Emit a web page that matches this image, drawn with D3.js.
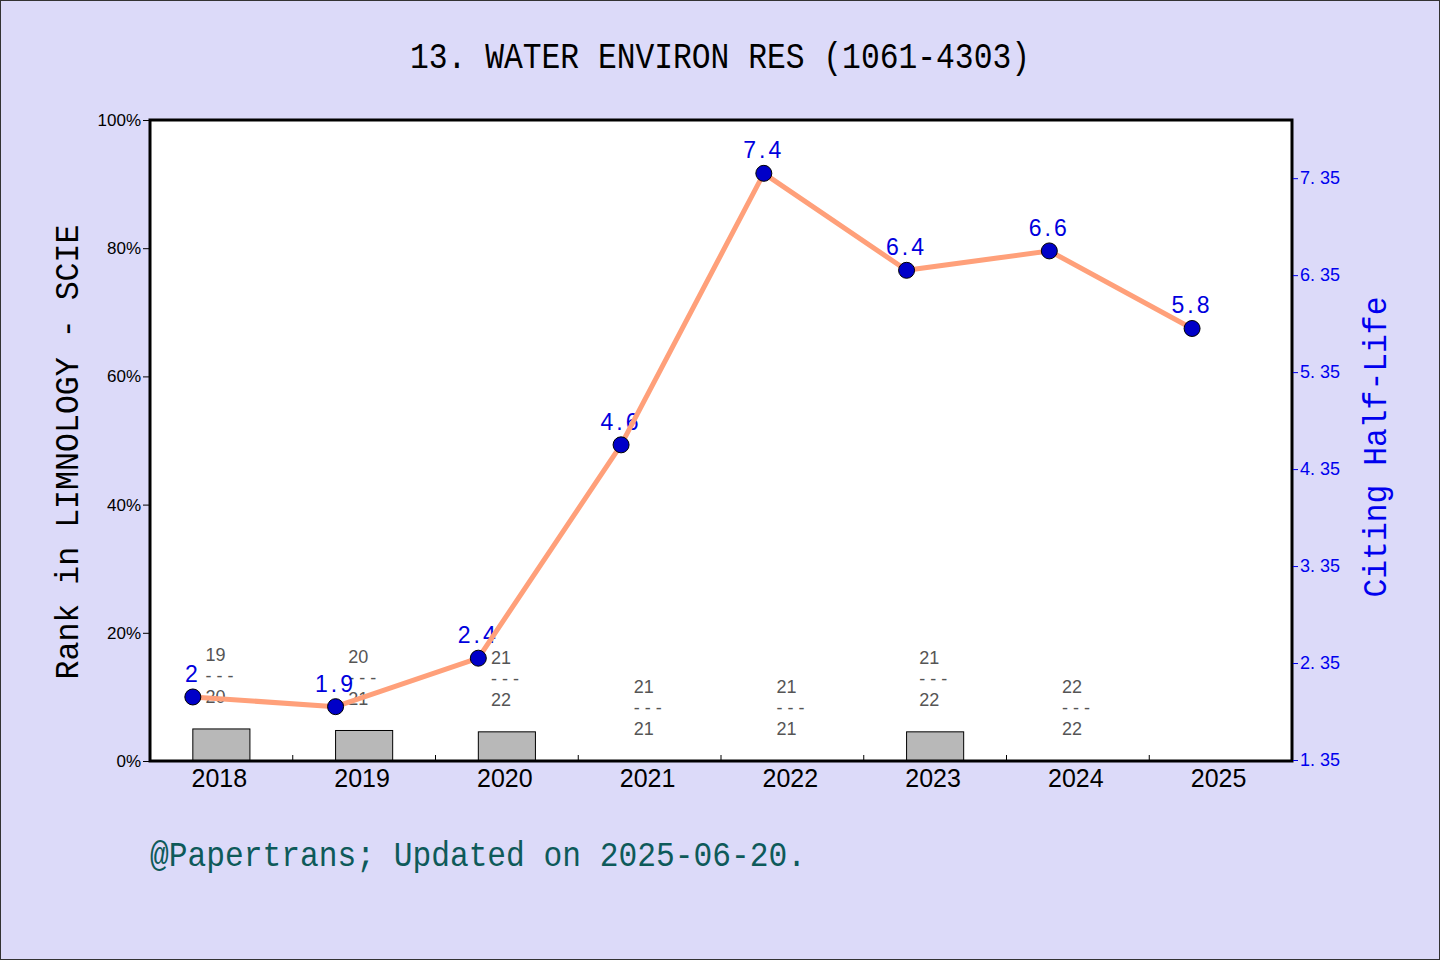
<!DOCTYPE html>
<html><head><meta charset="utf-8">
<script src="https://cdn.jsdelivr.net/npm/d3@7"></script>
<style>html,body{margin:0;padding:0;background:#dcdaf9;}svg{display:block;}</style>
</head><body>
<script>
const years = ["2018","2019","2020","2021","2022","2023","2024","2025"];
const halfLife = [2, 1.9, 2.4, 4.6, 7.4, 6.4, 6.6, 5.8];
const halfLifeLabels = ["2","1.9","2.4","4.6","7.4","6.4","6.6","5.8"];
const rankYears = ["2018","2019","2020","2021","2022","2023","2024"];
const ranks = [19, 20, 21, 21, 21, 21, 22];
const totals = [20, 21, 22, 21, 21, 22, 22];
const barPct = [5.0, 4.76, 4.55, 0, 0, 4.55, 0];
const leftTicks = [0, 20, 40, 60, 80, 100];
const rightTicks = [1.35, 2.35, 3.35, 4.35, 5.35, 6.35, 7.35];
const titleText = "13. WATER ENVIRON RES (1061-4303)";
const footerText = "@Papertrans; Updated on 2025-06-20.";

const W = 1440, H = 960;
const L = 150, R = 1292, T = 120, B = 761;
const svg = d3.select("body").append("svg").attr("width", W).attr("height", H);
svg.append("rect").attr("x",0.5).attr("y",0.5).attr("width",W-1).attr("height",H-1)
  .attr("fill","#dcdaf9").attr("stroke","#333").attr("stroke-width",1);

const mono = "'Liberation Mono','DejaVu Sans Mono',monospace";
const sans = "'Liberation Sans','DejaVu Sans',sans-serif";

svg.append("text").attr("x",720).attr("y",68).attr("text-anchor","middle")
  .attr("font-family",mono).attr("font-size",36).attr("fill","#000")
  .attr("textLength",620).attr("lengthAdjust","spacingAndGlyphs").text(titleText);

svg.append("rect").attr("x",L).attr("y",T).attr("width",R-L).attr("height",B-T).attr("fill","#fff");

const x = d3.scaleBand().domain(years).range([L,R]).padding(0);
const yL = d3.scaleLinear().domain([0,100]).range([B,T]);
const yR = d3.scaleLinear().domain([1.35,7.95]).range([B-1,T]);
const px = d => x(d) + x.bandwidth()*0.3;

// bars
svg.append("g").selectAll("rect").data(rankYears.map((y,i)=>({y, v:barPct[i]})).filter(d=>d.v>0))
  .join("rect")
  .attr("x", d=>px(d.y)).attr("width", x.bandwidth()*0.4)
  .attr("y", d=>yL(d.v)).attr("height", d=>B - yL(d.v))
  .attr("fill","#b8b8b8").attr("stroke","#000").attr("stroke-width",1);

// rank labels
const rk = svg.append("g").attr("font-family",sans).attr("font-size",18).attr("fill","#555");
rankYears.forEach((yr,i)=>{
  const cx = x(yr) + x.bandwidth()/2 - 16;
  const cy = yL(barPct[i]) - 53;
  rk.append("text").attr("x",cx).attr("y",cy-21).attr("dy","0.35em").text(ranks[i]);
  rk.append("text").attr("x",cx).attr("y",cy).attr("dy","0.35em")
    .attr("textLength",32).attr("lengthAdjust","spacing").attr("letter-spacing",4).text("---");
  rk.append("text").attr("x",cx).attr("y",cy+21).attr("dy","0.35em").text(totals[i]);
});

// data labels (under the line)
svg.append("g").selectAll("text").data(years.map((y,i)=>({y, v:halfLife[i], t:halfLifeLabels[i]})))
  .join("text").attr("x", d=>px(d.y)).attr("y", d=>yR(d.v)-15)
  .attr("text-anchor","middle").attr("font-family",sans).attr("font-size",23)
  .attr("letter-spacing",3).attr("fill","#0000dd").text(d=>d.t);

// line
const line = d3.line().x((d,i)=>px(years[i])).y(d=>yR(d));
svg.append("path").datum(halfLife).attr("d",line).attr("fill","none")
  .attr("stroke","#ffa07a").attr("stroke-width",5).attr("stroke-linejoin","round");

svg.append("g").selectAll("circle").data(halfLife).join("circle")
  .attr("cx",(d,i)=>px(years[i])).attr("cy",d=>yR(d)).attr("r",8)
  .attr("fill","#0000c8").attr("stroke","#000").attr("stroke-width",1);

// frame
svg.append("rect").attr("x",L).attr("y",T).attr("width",R-L).attr("height",B-T)
  .attr("fill","none").attr("stroke","#000").attr("stroke-width",3);

// left axis
const la = svg.append("g").attr("transform",`translate(${L-1},0)`)
  .call(d3.axisLeft(yL).tickValues(leftTicks).tickFormat(d=>d+"%").tickSize(6).tickPadding(2));
la.select(".domain").remove();
la.selectAll("text").attr("font-family",sans).attr("font-size",17).attr("fill","#000");
la.selectAll("line").attr("stroke","#000");

// right axis
const ra = svg.append("g").attr("transform",`translate(${R+1},0)`)
  .call(d3.axisRight(yR).tickValues(rightTicks).tickFormat(d=>d3.format(".2f")(d).replace(".",". ")).tickSize(5).tickPadding(2));
ra.select(".domain").remove();
ra.selectAll("text").attr("font-family",sans).attr("font-size",18).attr("fill","#0000ee");
ra.selectAll("line").attr("stroke","#0000ee");

// bottom axis
const boundaries = years.slice(1);
svg.append("g").selectAll("line").data(boundaries).join("line")
  .attr("x1",d=>x(d)).attr("x2",d=>x(d)).attr("y1",B).attr("y2",B-6)
  .attr("stroke","#000").attr("stroke-width",1);
svg.append("g").selectAll("text").data(years).join("text")
  .attr("x",d=>x(d)+x.bandwidth()/2-2).attr("y",787).attr("text-anchor","middle")
  .attr("font-family",sans).attr("font-size",25).attr("fill","#000").text(d=>d);

// axis titles
svg.append("text").attr("transform","translate(78,452) rotate(-90)").attr("text-anchor","middle")
  .attr("font-family",mono).attr("font-size",34).attr("fill","#000")
  .attr("textLength",455).attr("lengthAdjust","spacingAndGlyphs").text("Rank in LIMNOLOGY - SCIE");
svg.append("text").attr("transform","translate(1386,447) rotate(-90)").attr("text-anchor","middle")
  .attr("font-family",mono).attr("font-size",34).attr("fill","#0000ee")
  .attr("textLength",301).attr("lengthAdjust","spacingAndGlyphs").text("Citing Half-Life");

svg.append("text").attr("x",150).attr("y",866)
  .attr("font-family",mono).attr("font-size",35).attr("fill","#0e5a5a")
  .attr("textLength",656).attr("lengthAdjust","spacingAndGlyphs").text(footerText);
</script>
</body></html>
